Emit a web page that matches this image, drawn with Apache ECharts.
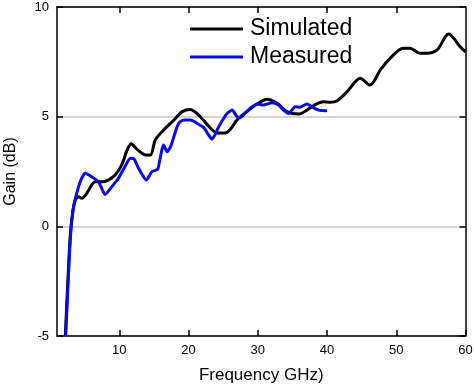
<!DOCTYPE html>
<html>
<head>
<meta charset="utf-8">
<script src="https://cdn.jsdelivr.net/npm/echarts@6/dist/echarts.min.js"></script>
<style>html,body{margin:0;padding:0;background:#fff}#c{width:474px;height:386px}</style>
</head>
<body>
<div id="c"></div>
<script>
var simFreq = [2.2,2.55,2.9,3.25,3.6,4.1,4.6,5.3,6.0,6.5,7.5,8.4,9.4,10.35,11.1,11.7,12.6,13.8,14.5,15.2,16.4,17.9,19.1,20.3,21.0,21.7,23.1,24.2,25.3,26.1,27.0,28.4,29.5,30.4,31.3,32.8,34.2,35.9,37.1,38.3,39.5,40.5,41.4,42.9,44.8,46.2,47.7,49.1,51.0,52.0,53.4,54.4,55.9,57.1,57.6,58.3,59.2,60];
var simGain = [-5,-2.6,-0.5,0.6,1.15,1.35,1.28,1.5,1.88,2.03,2.03,2.11,2.34,2.8,3.45,3.76,3.5,3.25,3.25,3.94,4.39,4.85,5.23,5.33,5.2,5.0,4.5,4.25,4.25,4.45,4.85,5.23,5.5,5.68,5.79,5.61,5.23,5.12,5.3,5.55,5.68,5.66,5.71,6.14,6.75,6.44,7.13,7.66,8.12,8.12,7.89,7.89,8.04,8.65,8.77,8.57,8.2,7.95];
var measFreq = [2.25,2.5,2.8,3.05,3.3,3.6,4.35,5.07,6.0,7.0,7.95,8.9,9.87,10.8,11.6,12.1,12.8,13.9,14.7,15.35,15.6,16.4,16.9,17.4,18.35,18.8,19.5,20.3,21.2,22.2,22.9,23.4,24.35,25.56,26.3,27.0,27.5,28.0,28.9,29.9,30.8,32.05,33.0,33.7,34.45,35.4,36.1,37.1,37.8,38.8,40.0];
var measGain = [-5,-3.3,-1.3,0,0.7,1.2,2.03,2.42,2.26,2.03,1.45,1.8,2.19,2.72,3.1,3.08,2.64,2.11,2.49,2.57,2.65,3.71,3.40,3.63,4.54,4.77,4.85,4.85,4.70,4.5,4.16,3.97,4.54,5.15,5.3,5.0,4.95,5.1,5.38,5.58,5.53,5.64,5.53,5.30,5.15,5.45,5.43,5.58,5.45,5.30,5.27];
var xTickValues = [10,20,30,40,50,60];
var xTopTicks = [10,20,30,40,50];
var seriesNames = ['Simulated','Measured'];

function zip(a,b){var r=[];for(var i=0;i<a.length;i++)r.push([a[i],b[i]]);return r;}
var font = 'Liberation Sans, Arial, sans-serif';
var axisLine = {show:true, onZero:false, lineStyle:{color:'#000', width:1.5}};
var chart = echarts.init(document.getElementById('c'), null, {renderer:'canvas'});
chart.setOption({
  animation:false,
  backgroundColor:'#fff',
  grid:{left:57, right:8.5, top:7, bottom:50, containLabel:false, outerBoundsMode:'none'},
  legend:{
    data:seriesNames, orient:'vertical', left:190, top:17, icon:'rect', padding:0,
    itemWidth:53, itemHeight:3, itemGap:4,
    textStyle:{fontSize:23, fontFamily:font, color:'#000', lineHeight:24, padding:[0,0,0,2]}
  },
  xAxis:[{
    type:'value', min:1, max:60, position:'bottom',
    axisLine:axisLine,
    axisTick:{show:true, inside:true, length:6, customValues:xTickValues, lineStyle:{color:'#000', width:1.5}},
    axisLabel:{show:true, customValues:xTickValues, fontSize:13, margin:8, color:'#000', fontFamily:font},
    splitLine:{show:false},
    name:'Frequency GHz)', nameLocation:'middle', nameGap:31,
    nameTextStyle:{fontSize:17, fontFamily:font, color:'#000'}
  },{
    type:'value', min:1, max:60, position:'top',
    axisLine:axisLine,
    axisTick:{show:true, inside:true, length:6, customValues:xTopTicks, lineStyle:{color:'#000', width:1.5}},
    axisLabel:{show:false},
    splitLine:{show:false}
  }],
  yAxis:[{
    type:'value', min:-5, max:10, interval:5, position:'left',
    axisLine:axisLine,
    axisTick:{show:true, inside:true, length:6, lineStyle:{color:'#000', width:1.5}},
    axisLabel:{show:true, fontSize:13, margin:8, color:'#000', fontFamily:font},
    splitLine:{show:true, lineStyle:{color:'#c4c4c4', width:1.5}},
    name:'Gain (dB)', nameLocation:'middle', nameGap:38, nameRotate:90,
    nameTextStyle:{fontSize:16, fontFamily:font, color:'#000'}
  },{
    type:'value', min:-5, max:10, interval:5, position:'right',
    axisLine:axisLine,
    axisTick:{show:true, inside:true, length:6, lineStyle:{color:'#000', width:1.5}},
    axisLabel:{show:false},
    splitLine:{show:false}
  }],
  series:[{
    name:seriesNames[0], type:'line', xAxisIndex:0, yAxisIndex:0,
    data:zip(simFreq, simGain), symbol:'none', smooth:0.3,
    lineStyle:{color:'#000', width:3}, itemStyle:{color:'#000'}
  },{
    name:seriesNames[1], type:'line', xAxisIndex:0, yAxisIndex:0,
    data:zip(measFreq, measGain), symbol:'none', smooth:0.2,
    lineStyle:{color:'#0a0ae6', width:3}, itemStyle:{color:'#0a0ae6'}
  }]
});
</script>
</body>
</html>
